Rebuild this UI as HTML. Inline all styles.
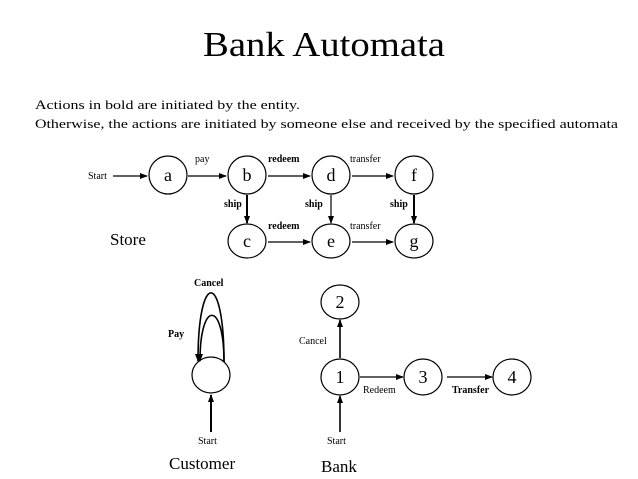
<!DOCTYPE html>
<html><head><style>body{margin:0;background:#fff}svg{display:block}</style></head><body>
<svg width="638" height="479" viewBox="0 0 638 479" xmlns="http://www.w3.org/2000/svg" font-family="Liberation Serif, serif">
<defs><marker id="ar" markerWidth="8" markerHeight="8" refX="7" refY="4" orient="auto" markerUnits="userSpaceOnUse"><path d="M0,1 L8,4 L0,7z" fill="#000"/></marker></defs>
<text x="203" y="56" font-size="35" textLength="242" lengthAdjust="spacingAndGlyphs">Bank Automata</text>
<text x="35" y="109" font-size="13" textLength="265" lengthAdjust="spacingAndGlyphs">Actions in bold are initiated by the entity.</text>
<text x="35" y="128" font-size="13" textLength="583" lengthAdjust="spacingAndGlyphs">Otherwise, the actions are initiated by someone else and received by the specified automata</text>
<g fill="none" stroke="#000" stroke-width="1.2">
<ellipse cx="168" cy="175" rx="19" ry="19"/><ellipse cx="247" cy="175" rx="19" ry="19"/><ellipse cx="331" cy="175" rx="19" ry="19"/><ellipse cx="414" cy="175" rx="19" ry="19"/>
<ellipse cx="247" cy="241" rx="19" ry="17"/><ellipse cx="331" cy="241" rx="19" ry="17"/><ellipse cx="414" cy="241" rx="19" ry="17"/>
<line x1="113" y1="176" x2="147" y2="176" marker-end="url(#ar)"/>
<line x1="188" y1="176" x2="226" y2="176" marker-end="url(#ar)"/>
<line x1="268" y1="176" x2="310" y2="176" marker-end="url(#ar)"/>
<line x1="352" y1="176" x2="393" y2="176" marker-end="url(#ar)"/>
<line x1="268" y1="242" x2="310" y2="242" marker-end="url(#ar)"/>
<line x1="352" y1="242" x2="393" y2="242" marker-end="url(#ar)"/>
<line x1="247" y1="195" x2="247" y2="223" stroke-width="2" marker-end="url(#ar)"/>
<line x1="331" y1="195" x2="331" y2="223" marker-end="url(#ar)"/>
<line x1="414" y1="195" x2="414" y2="223" stroke-width="2" marker-end="url(#ar)"/>
<ellipse cx="211" cy="375" rx="19" ry="18"/>
<path d="M224,362 C224,270 198,270 198,361" stroke-width="1.6" marker-end="url(#ar)"/>
<path d="M224,362 C224,300 200,300 200,361" stroke-width="1.6" marker-end="url(#ar)"/>
<line x1="211" y1="432" x2="211" y2="395" stroke-width="2" marker-end="url(#ar)"/>
<ellipse cx="340" cy="302" rx="19" ry="17"/><ellipse cx="340" cy="377" rx="19" ry="18"/><ellipse cx="423" cy="377" rx="19" ry="18"/><ellipse cx="512" cy="377" rx="19" ry="18"/>
<line x1="340" y1="358" x2="340" y2="320" stroke-width="1.6" marker-end="url(#ar)"/>
<line x1="340" y1="432" x2="340" y2="396" stroke-width="1.6" marker-end="url(#ar)"/>
<line x1="360" y1="377" x2="403" y2="377" marker-end="url(#ar)"/>
<line x1="447" y1="377" x2="492" y2="377" marker-end="url(#ar)"/>
</g>
<g font-size="18" text-anchor="middle">
<text x="168" y="181">a</text><text x="247" y="181">b</text><text x="331" y="181">d</text><text x="414" y="181">f</text>
<text x="247" y="247">c</text><text x="331" y="247">e</text><text x="414" y="247">g</text>
<text x="340" y="308">2</text><text x="340" y="383">1</text><text x="423" y="383">3</text><text x="512" y="383">4</text>
</g>
<g font-size="10">
<text x="88" y="179">Start</text><text x="195" y="162">pay</text>
<text x="268" y="162" font-weight="bold">redeem</text><text x="350" y="162">transfer</text>
<text x="224" y="207" font-weight="bold">ship</text><text x="305" y="207" font-weight="bold">ship</text><text x="390" y="207" font-weight="bold">ship</text>
<text x="268" y="229" font-weight="bold">redeem</text><text x="350" y="229">transfer</text>
<text x="194" y="286" font-weight="bold">Cancel</text><text x="168" y="337" font-weight="bold">Pay</text>
<text x="198" y="444">Start</text><text x="327" y="444">Start</text>
<text x="299" y="344">Cancel</text><text x="363" y="393">Redeem</text><text x="452" y="393" font-weight="bold">Transfer</text>
</g>
<text x="110" y="245" font-size="17">Store</text>
<text x="169" y="469" font-size="17">Customer</text>
<text x="321" y="472" font-size="17">Bank</text>
</svg>
</body></html>
